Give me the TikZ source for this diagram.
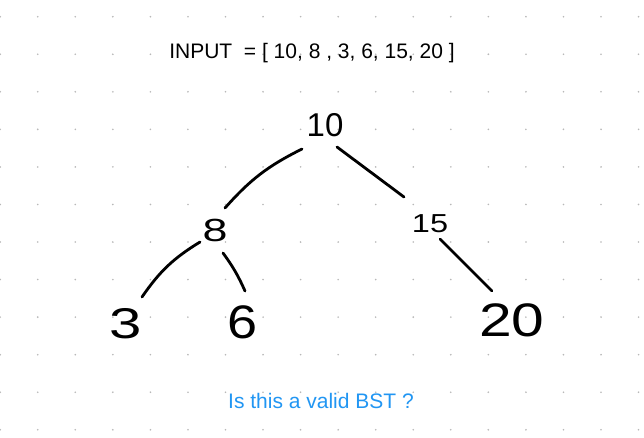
\documentclass[tikz,border=0pt]{standalone}
\usepackage{fontspec}
\setmainfont{Liberation Sans}
\definecolor{dotc}{HTML}{B8B8B8}
\definecolor{qblue}{HTML}{2196F3}
\begin{document}
\begin{tikzpicture}[x=1pt,y=-1pt,
  hand/.style={text=black, inner sep=0pt},
  edge/.style={line width=2.8pt, line cap=round, draw=black}]
\useasboundingbox (0,0) rectangle (644,437);
\fill[white] (0,0) rectangle (644,437);
\foreach \i in {0,...,17}{
  \foreach \j in {0,...,11}{
    \fill[dotc] (0.2+37.55*\i, 16.7+37.55*\j) circle (0.9);
  }
}
% texts
\node[anchor=base, inner sep=0pt, font=\fontsize{21}{21}\selectfont] (title) at (312,58) {INPUT~~= [ 10, 8 , 3, 6, 15, 20 ]};
\node[anchor=base, inner sep=0pt, text=qblue, font=\fontsize{21}{21}\selectfont] (question) at (321,408) {Is this a valid BST ?};
% tree nodes
\node[hand, font=\fontsize{33}{33}\selectfont] (n10) at (325,125) {10};
\node[hand, font=\fontsize{32}{32}\selectfont] (n8) at (215,230) {\scalebox{1.4}[1]{8}};
\node[hand, font=\fontsize{26}{26}\selectfont] (n15) at (430,224) {\scalebox{1.25}[1]{15}};
\node[hand, font=\fontsize{43}{43}\selectfont] (n3) at (126,324) {\scalebox{1.35}[1]{3}};
\node[hand, font=\fontsize{47}{47}\selectfont] (n6) at (243,322) {\scalebox{1.15}[1]{6}};
\node[hand, font=\fontsize{47}{47}\selectfont] (n20) at (512,320) {\scalebox{1.25}[1]{20}};
% edges
\draw[edge] ([shift={(-23,24)}]n10.center) to[bend right=11] ([shift={(10,-22)}]n8.center);
\draw[edge] ([shift={(12,22)}]n10.center) -- ([shift={(-26,-27)}]n15.center);
\draw[edge] ([shift={(10,15)}]n15.center) -- ([shift={(-20,-29)}]n20.center);
\draw[edge] ([shift={(-15,12)}]n8.center) to[bend right=12] ([shift={(16,-27)}]n3.center);
\draw[edge] ([shift={(8,23)}]n8.center) to[bend left=6] ([shift={(2,-31)}]n6.center);
\end{tikzpicture}
\end{document}
